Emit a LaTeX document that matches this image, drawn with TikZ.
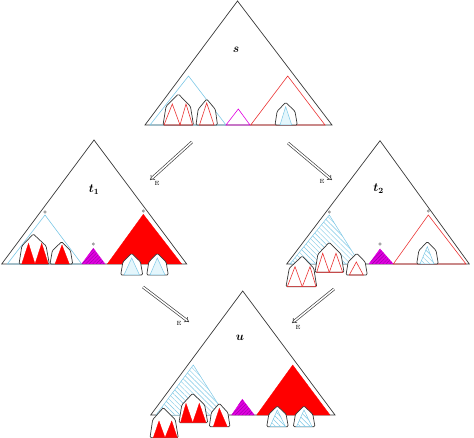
\documentclass[tikz,border=0pt]{standalone}
\usepackage{bm}
\usetikzlibrary{arrows.meta,patterns.meta}
\definecolor{cyanl}{RGB}{125,200,230}
\definecolor{redl}{RGB}{235,50,50}
\definecolor{redf}{RGB}{255,0,0}
\definecolor{magf}{RGB}{225,0,225}
\definecolor{magh}{RGB}{150,0,160}
\definecolor{outl}{RGB}{55,55,55}
\definecolor{palec}{RGB}{228,246,252}
\definecolor{arrg}{RGB}{60,60,60}
\tikzset{
  bigtri/.style={draw=outl,line width=0.7pt},
  cyanline/.style={draw=cyanl,line width=0.6pt},
  cyanpale/.style={draw=cyanl,fill=palec,line width=0.5pt},
  cyanhatch/.style={draw=cyanl,line width=0.5pt,fill=white,
     postaction={pattern={Lines[angle=-45,distance=3.5pt,line width=0.45pt]},pattern color=cyanl}},
  redline/.style={draw=redl,line width=0.6pt},
  redfill/.style={fill=redf,draw=redf,line width=0.3pt},
  magline/.style={draw=magf,line width=0.6pt},
  magfill/.style={fill=magf,draw=magf,line width=0.4pt,
     postaction={pattern={Lines[angle=45,distance=2.5pt,line width=0.4pt]},pattern color=magh}},
  bellst/.style={draw=outl,fill=white,line width=0.7pt,rounded corners=1.2pt},
  dotst/.style={fill=gray!70,draw=gray!90,line width=0.2pt},
  darr/.style={draw=arrg,double=white,double distance=1.5pt,line width=0.65pt,
     -{Implies[length=2.5pt]}},
  elab/.style={font=\fontsize{6}{7}\selectfont,inner sep=0pt},
  tlab/.style={font=\large,inner sep=0pt}
}
\newcommand{\mytri}[6][]{\path[#1] (#2,#4) -- (#5,#6) -- (#3,#4) -- cycle;}
\newcommand{\mybell}[6][]{\path[bellst,#1] (#2,#4) -- ({#2+0.2*(#5-#2)},{#4-0.6*(#4-#6)}) -- (#5,#6) -- ({#3-0.2*(#3-#5)},{#4-0.6*(#4-#6)}) -- (#3,#4) -- cycle;}
\newcommand{\mydot}[2]{\path[dotst] (#1,#2) circle (1.4);}
\begin{document}
\begin{tikzpicture}[x=1pt,y=-1pt]
\useasboundingbox (0,0) rectangle (474,438);
% ===== s =====
\mytri[bigtri]{145}{332}{125}{237.5}{1}
\node[tlab] (s) at (236,50) {$\bm{s}$};
\mytri[cyanline]{150}{226}{125}{188.5}{76}
\mybell{163}{193.5}{125}{178.3}{94}
\mytri[redline]{164}{180}{125}{172.3}{104}
\mytri[redline]{180}{192.5}{125}{186}{104}
\mybell{196}{217.5}{125}{206.7}{99}
\mytri[redline]{199.5}{214}{125}{206.7}{103}
\mytri[magline]{226}{250}{125}{238.3}{109}
\mytri[redline]{250.7}{325}{125}{287.7}{76}
\mybell{275}{297.3}{125}{285.7}{102.3}
\mytri[cyanpale]{280}{291.7}{125}{285.7}{106.7}
% ===== t1 =====
\mytri[bigtri]{1.7}{186.7}{264}{94}{140}
\node[tlab] (t1) at (94,190) {$\bm{t_1}$};
\mytri[cyanline]{7.3}{81.7}{264}{45}{215}
\mydot{45}{212}
\mybell{19}{49.3}{264}{33.3}{234}
\mytri[redfill]{21.7}{35}{264}{28.5}{243.3}
\mytri[redfill]{35}{48.3}{264}{41.7}{243.3}
\mybell{50}{72.7}{264}{61.7}{241.7}
\mytri[redfill]{55}{69.3}{264}{62}{245}
\mytri[magfill]{81.7}{105}{264}{93.3}{248.3}
\mydot{93.3}{244}
\mytri[redfill]{107.3}{181.7}{264}{143.3}{214.3}
\mydot{143.3}{211}
\mybell{120.7}{142.7}{275}{131.7}{253.3}
\mytri[cyanpale]{124}{139.5}{275}{131.7}{258}
\mybell{146.7}{168.3}{275}{157.3}{253.3}
\mytri[cyanpale]{150}{165}{275}{157.3}{258}
% ===== t2 =====
\mytri[bigtri]{286.7}{469.3}{264}{380}{140.7}
\node[tlab] (t2) at (378.5,188.5) {$\bm{t_2}$};
\mytri[cyanhatch]{290}{360}{264}{329.3}{215}
\mydot{329.3}{212}
\mybell{315}{344}{272.3}{329.3}{242.3}
\mytri[redline]{316.7}{329.3}{272.3}{322.7}{253.3}
\mytri[redline]{329.3}{342.7}{272.3}{336}{253.3}
\mybell{286}{316.7}{286.7}{302.3}{256}
\mytri[redline]{287.3}{302.3}{286.7}{295}{266.7}
\mytri[redline]{302.3}{316}{286.7}{310}{266.7}
\mybell{346}{367.3}{275}{356.7}{253.3}
\mytri[redline]{349.3}{363.3}{275}{356.3}{262}
\mytri[magfill]{369}{393.3}{264}{380}{249}
\mydot{380}{244}
\mytri[redline]{393.3}{466}{264}{428.3}{215}
\mydot{428.3}{211}
\mybell{416.7}{438.3}{264}{427.3}{241.7}
\mytri[cyanhatch]{420}{434}{264}{427.3}{246.7}
% ===== u =====
\mytri[bigtri]{150.7}{335}{415}{242.7}{291}
\node[tlab] (u) at (240,338.3) {$\bm{u}$};
\mytri[cyanhatch]{156}{225}{415}{193.3}{365}
\mybell{179}{207.7}{422.7}{192.7}{393.3}
\mytri[redfill]{180.5}{192.7}{422.7}{186}{403.3}
\mytri[redfill]{192.7}{206}{422.7}{199.3}{403.3}
\mybell{150}{178.3}{437.7}{163.3}{407.7}
\mytri[redfill]{153.3}{165}{437.7}{159}{421}
\mytri[redfill]{165}{177.3}{437.7}{171.7}{421}
\mybell{209.3}{230}{426.7}{219.3}{403.3}
\mytri[redfill]{213.3}{227.3}{426.7}{219.3}{408.3}
\mytri[magfill]{231.7}{254.3}{415}{242.3}{399.3}
\mytri[redfill]{256.7}{330}{415}{292.7}{365}
\mybell{266.7}{288.3}{426.7}{277.3}{406}
\mytri[cyanhatch]{270}{285.5}{426.7}{277.3}{410}
\mybell{293.3}{315}{426.7}{304}{406}
\mytri[cyanhatch]{296.5}{312}{426.7}{304}{410}
% ===== arrows =====
\coordinate (a1s) at (192,142); \coordinate (a1e) at (150,180);
\coordinate (a2s) at (288,143); \coordinate (a2e) at (332,180);
\coordinate (a3s) at (143,287); \coordinate (a3e) at (189,322);
\coordinate (a4s) at (334,289); \coordinate (a4e) at (292,323);
\draw[darr] (a1s) -- (a1e);
\draw[darr] (a2s) -- (a2e);
\draw[darr] (a3s) -- (a3e);
\draw[darr] (a4s) -- (a4e);
\node[elab] (e1) at (157,183) {E};
\node[elab] (e2) at (322,181.5) {E};
\node[elab] (e3) at (179,323.5) {E};
\node[elab] (e4) at (298,327) {E};
\end{tikzpicture}
\end{document}
